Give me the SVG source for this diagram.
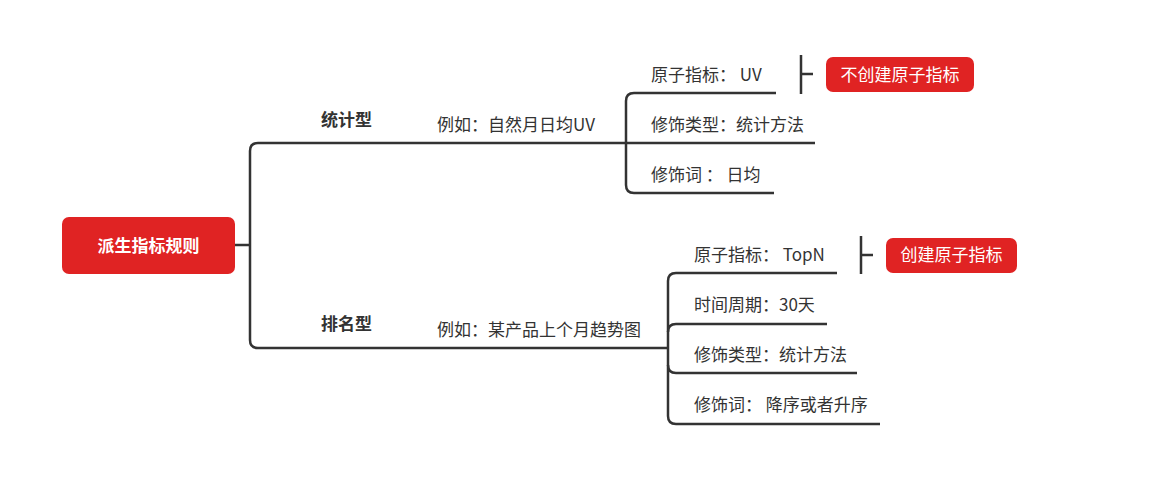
<svg xmlns="http://www.w3.org/2000/svg" width="1166" height="488" viewBox="0 0 1166 488">
<style>
.t{font-family:"Noto Sans CJK SC","Noto Sans",sans-serif;font-size:17px;fill:#333}
.b{font-weight:bold}
.w{font-family:"Noto Sans CJK SC","Noto Sans",sans-serif;font-size:17px;fill:#fff;text-anchor:middle}
.box{fill:#e02323}
.ln{fill:none;stroke:#333;stroke-width:2.5;stroke-linecap:butt}
</style>
<rect width="1166" height="488" fill="#fff"/>
<g id="connectors" class="ln">
<path d="M235,245 H250"/>
<path d="M815,143 H258 Q250,143 250,151 V340 Q250,348 258,348 H668"/>
<path d="M626,101 Q626,93 634,93 H776"/>
<path d="M626,101 V185"/>
<path d="M626,185 Q626,193 634,193 H774"/>
<path d="M668,281 Q668,273 676,273 H837"/>
<path d="M668,281 V416"/>
<path d="M668,332 Q668,324 676,324 H827"/>
<path d="M668,365 Q668,373 676,373 H857"/>
<path d="M668,416 Q668,424 676,424 H880"/>
<path d="M801,55 V94 M801,74 H813"/>
<path d="M861,236 V274 M861,255 H873"/>
</g>
<g id="root">
<rect class="box" x="62" y="217" width="173" height="57" rx="7"/>
<text class="w b" x="148.5" y="252">派生指标规则</text>
</g>
<g id="stat-type"><text class="t b" x="321" y="126">统计型</text></g>
<g id="stat-example"><text class="t" x="437" y="131">例如：自然月日均UV</text></g>
<g id="stat-atom"><text class="t" x="651" y="81">原子指标： UV</text></g>
<g id="stat-modtype"><text class="t" x="651" y="131">修饰类型：统计方法</text></g>
<g id="stat-mod"><text class="t" x="651" y="181">修饰词 ： 日均</text></g>
<g id="no-create">
<rect class="box" x="826" y="57" width="148" height="35" rx="7"/>
<text class="w" x="900" y="81">不创建原子指标</text>
</g>
<g id="rank-type"><text class="t b" x="321" y="330">排名型</text></g>
<g id="rank-example"><text class="t" x="437" y="336">例如：某产品上个月趋势图</text></g>
<g id="rank-atom"><text class="t" x="694" y="261">原子指标： TopN</text></g>
<g id="rank-period"><text class="t" x="694" y="311">时间周期：30天</text></g>
<g id="rank-modtype"><text class="t" x="694" y="361">修饰类型：统计方法</text></g>
<g id="rank-mod"><text class="t" x="694" y="411">修饰词： 降序或者升序</text></g>
<g id="create">
<rect class="box" x="886" y="238" width="131" height="35" rx="7"/>
<text class="w" x="951.5" y="261">创建原子指标</text>
</g>
</svg>
